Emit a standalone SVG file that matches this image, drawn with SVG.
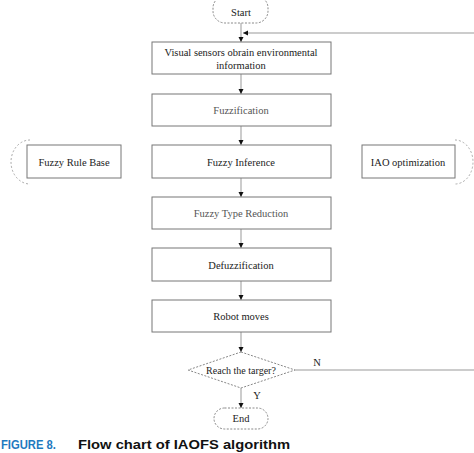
<svg xmlns="http://www.w3.org/2000/svg" width="474" height="453" viewBox="0 0 474 453">
<defs>
<marker id="ah" markerWidth="6" markerHeight="6" refX="5" refY="3" orient="auto" markerUnits="userSpaceOnUse">
<path d="M0,0.5 L5,3 L0,5.5 Z" fill="#111"/>
</marker>
<style>
.box{fill:#fff;stroke:#777;stroke-width:1}
.term{fill:#fff;stroke:#888;stroke-width:1;stroke-dasharray:2,1.5}
.dash{fill:none;stroke:#aaa;stroke-width:1;stroke-dasharray:2,2}
.t{font-family:"Liberation Serif","Times New Roman",serif;font-size:10.5px;fill:#222;text-anchor:middle;dominant-baseline:central}
.lt{fill:#555}
.con{fill:none;stroke:#999;stroke-width:1}
.cap{font-family:"Liberation Sans",Arial,sans-serif;font-size:13px;font-weight:bold}
</style>
</defs>
<rect width="474" height="453" fill="#fff"/>
<g id="connectors">
<line class="con" x1="241" y1="23" x2="241" y2="42" marker-end="url(#ah)"/>
<line class="con" x1="241" y1="74" x2="241" y2="94" marker-end="url(#ah)"/>
<line class="con" x1="241" y1="126" x2="241" y2="145" marker-end="url(#ah)"/>
<line class="con" x1="241" y1="178" x2="241" y2="197" marker-end="url(#ah)"/>
<line class="con" x1="241" y1="229" x2="241" y2="248" marker-end="url(#ah)"/>
<line class="con" x1="241" y1="281" x2="241" y2="300" marker-end="url(#ah)"/>
<line class="con" x1="241" y1="332" x2="241" y2="352" marker-end="url(#ah)"/>
<line class="con" x1="241" y1="388" x2="241" y2="408" marker-end="url(#ah)"/>
<path class="con" d="M295,370 H480 V33 H243" marker-end="url(#ah)"/>
<path class="dash" d="M30,140 A19,22 0 0 0 30,184"/>
<path class="dash" d="M455,140 A18,22 0 0 1 455,184"/>
</g>
<g id="start">
<rect class="term" x="213" y="-4" width="55" height="27" rx="12"/>
<text class="t" x="241" y="12">Start</text>
</g>
<g id="sensors">
<rect class="box" x="152" y="42" width="179" height="32"/>
<text class="t" x="241" y="52">Visual sensors obrain environmental</text>
<text class="t" x="241" y="65">information</text>
</g>
<g id="fuzzification">
<rect class="box" x="152" y="94" width="179" height="32"/>
<text class="t lt" x="241" y="110">Fuzzification</text>
</g>
<g id="inference">
<rect class="box" x="152" y="145" width="179" height="33"/>
<text class="t" x="241" y="162">Fuzzy Inference</text>
</g>
<g id="rulebase">
<rect class="box" x="27" y="145" width="94" height="33"/>
<text class="t" x="74" y="162">Fuzzy Rule Base</text>
</g>
<g id="iao">
<rect class="box" x="362" y="145" width="93" height="33"/>
<text class="t" x="408" y="162">IAO optimization</text>
</g>
<g id="typered">
<rect class="box" x="152" y="197" width="179" height="32"/>
<text class="t lt" x="241" y="213">Fuzzy Type Reduction</text>
</g>
<g id="defuzz">
<rect class="box" x="152" y="248" width="179" height="33"/>
<text class="t" x="241" y="265">Defuzzification</text>
</g>
<g id="robot">
<rect class="box" x="152" y="300" width="179" height="32"/>
<text class="t" x="241" y="316">Robot moves</text>
</g>
<g id="decision">
<polygon class="term" points="241,352 295,370 241,388 188,370"/>
<text class="t" x="241" y="370" style="font-size:10px">Reach the targer?</text>
<text class="t" x="317" y="362">N</text>
<text class="t" x="257" y="395">Y</text>
</g>
<g id="end">
<rect class="term" x="214" y="408" width="54" height="21" rx="10.5"/>
<text class="t" x="241" y="418">End</text>
</g>
<g id="caption">
<text class="cap" x="1" y="449" fill="#1f7ac0" textLength="55" lengthAdjust="spacingAndGlyphs">FIGURE 8.</text>
<text class="cap" x="78" y="449" fill="#111" textLength="212" lengthAdjust="spacingAndGlyphs">Flow chart of IAOFS algorithm</text>
</g>
</svg>
